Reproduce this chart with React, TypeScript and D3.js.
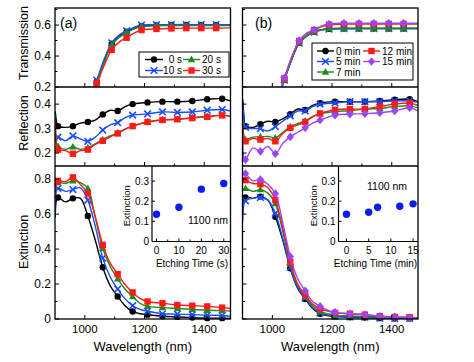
import React from "react";
import * as d3 from "d3";

const W = 474;
const H = 362;
const FONT = "'Liberation Sans', Arial, Helvetica, sans-serif";

// wavelength grids (nm)
const transWl = [1030, 1040, 1065, 1090, 1115, 1140, 1165, 1190, 1240, 1290, 1340, 1390, 1440, 1488];
const transMarks = [1040, 1090, 1140, 1190, 1240, 1290, 1340, 1390, 1440];
const reflWl = [901, 905, 910, 935, 960, 985, 1010, 1035, 1060, 1085, 1110, 1135, 1160, 1210, 1260, 1310, 1360, 1410, 1460, 1488];
const extWl = [901, 910, 935, 960, 985, 1010, 1035, 1060, 1085, 1110, 1135, 1160, 1185, 1210, 1260, 1310, 1360, 1410, 1460, 1488];
const marks = [910, 960, 1010, 1060, 1110, 1160, 1210, 1260, 1310, 1360, 1410, 1460];

const labelsA = ["0 s", "10 s", "20 s", "30 s"];
const labelsB = ["0 min", "5 min", "7 min", "12 min", "15 min"];

// (a) transmission
const transA0 = [0.19, 0.235, 0.37, 0.48, 0.53, 0.557, 0.58, 0.593, 0.598, 0.6, 0.6, 0.6, 0.6, 0.6];
const transA10 = [0.2, 0.245, 0.38, 0.485, 0.535, 0.563, 0.585, 0.6, 0.602, 0.603, 0.603, 0.603, 0.603, 0.603];
const transA20 = [0.185, 0.23, 0.36, 0.47, 0.52, 0.55, 0.575, 0.59, 0.595, 0.596, 0.596, 0.596, 0.596, 0.596];
const transA30 = [0.18, 0.222, 0.34, 0.44, 0.49, 0.518, 0.548, 0.568, 0.575, 0.578, 0.58, 0.58, 0.58, 0.582];
// (b) transmission
const transB0 = [0.19, 0.245, 0.38, 0.485, 0.53, 0.557, 0.57, 0.576, 0.578, 0.578, 0.578, 0.578, 0.578, 0.578];
const transB5 = [0.19, 0.245, 0.38, 0.483, 0.528, 0.555, 0.568, 0.574, 0.576, 0.577, 0.577, 0.577, 0.577, 0.578];
const transB7 = [0.19, 0.245, 0.38, 0.485, 0.53, 0.557, 0.57, 0.577, 0.58, 0.58, 0.58, 0.58, 0.58, 0.58];
const transB12 = [0.195, 0.255, 0.39, 0.497, 0.545, 0.567, 0.59, 0.602, 0.606, 0.607, 0.607, 0.607, 0.607, 0.607];
const transB15 = [0.2, 0.258, 0.395, 0.5, 0.548, 0.57, 0.595, 0.607, 0.612, 0.612, 0.612, 0.612, 0.612, 0.612];

// (a) reflection
const reflA0 = [0.37, 0.33, 0.31, 0.305, 0.31, 0.322, 0.327, 0.335, 0.358, 0.375, 0.372, 0.39, 0.4, 0.407, 0.41, 0.41, 0.413, 0.42, 0.422, 0.413];
const reflA10 = [0.36, 0.25, 0.265, 0.25, 0.27, 0.258, 0.248, 0.265, 0.294, 0.315, 0.324, 0.345, 0.355, 0.36, 0.368, 0.366, 0.368, 0.375, 0.378, 0.372];
const reflA20 = [0.33, 0.24, 0.228, 0.215, 0.225, 0.215, 0.222, 0.238, 0.255, 0.27, 0.283, 0.298, 0.31, 0.328, 0.335, 0.338, 0.345, 0.35, 0.355, 0.35];
const reflA30 = [0.33, 0.23, 0.214, 0.21, 0.197, 0.21, 0.214, 0.235, 0.25, 0.266, 0.28, 0.298, 0.31, 0.327, 0.335, 0.338, 0.343, 0.348, 0.354, 0.35];
// (b) reflection
const reflB0 = [0.42, 0.35, 0.31, 0.305, 0.318, 0.33, 0.327, 0.34, 0.359, 0.38, 0.376, 0.395, 0.404, 0.41, 0.41, 0.41, 0.413, 0.418, 0.42, 0.41];
const reflB5 = [0.4, 0.33, 0.305, 0.3, 0.3, 0.29, 0.308, 0.33, 0.352, 0.372, 0.372, 0.39, 0.4, 0.405, 0.41, 0.41, 0.41, 0.413, 0.413, 0.408];
const reflB7 = [0.33, 0.27, 0.255, 0.265, 0.266, 0.268, 0.262, 0.285, 0.308, 0.32, 0.331, 0.35, 0.36, 0.37, 0.373, 0.38, 0.382, 0.39, 0.393, 0.385];
const reflB12 = [0.32, 0.26, 0.248, 0.26, 0.255, 0.26, 0.248, 0.28, 0.303, 0.315, 0.327, 0.348, 0.362, 0.377, 0.38, 0.38, 0.39, 0.4, 0.404, 0.395];
const reflB15 = [0.25, 0.18, 0.173, 0.221, 0.207, 0.227, 0.197, 0.24, 0.266, 0.285, 0.303, 0.322, 0.335, 0.355, 0.359, 0.361, 0.365, 0.372, 0.385, 0.372];

// (a) extinction
const extA0 = [0.58, 0.695, 0.67, 0.69, 0.69, 0.589, 0.45, 0.296, 0.19, 0.129, 0.075, 0.043, 0.03, 0.025, 0.016, 0.012, 0.008, 0.005, 0.005, 0.003];
const extA10 = [0.6, 0.747, 0.73, 0.74, 0.75, 0.68, 0.53, 0.348, 0.24, 0.171, 0.115, 0.076, 0.055, 0.044, 0.03, 0.028, 0.025, 0.022, 0.02, 0.016];
const extA20 = [0.7, 0.78, 0.775, 0.79, 0.78, 0.747, 0.58, 0.405, 0.3, 0.23, 0.17, 0.129, 0.09, 0.072, 0.065, 0.06, 0.055, 0.05, 0.048, 0.045];
const extA30 = [0.72, 0.79, 0.785, 0.81, 0.77, 0.718, 0.585, 0.424, 0.32, 0.257, 0.196, 0.152, 0.118, 0.1, 0.09, 0.08, 0.076, 0.072, 0.065, 0.06];
// (b) extinction
const extB0 = [0.6, 0.695, 0.69, 0.7, 0.68, 0.585, 0.45, 0.29, 0.175, 0.114, 0.06, 0.03, 0.02, 0.015, 0.01, 0.008, 0.005, 0.003, 0.003, 0.003];
const extB5 = [0.56, 0.676, 0.69, 0.695, 0.68, 0.604, 0.46, 0.296, 0.18, 0.12, 0.065, 0.035, 0.022, 0.016, 0.012, 0.01, 0.005, 0.003, 0.003, 0.003];
const extB7 = [0.74, 0.747, 0.73, 0.74, 0.72, 0.66, 0.5, 0.318, 0.19, 0.129, 0.075, 0.044, 0.03, 0.022, 0.018, 0.015, 0.012, 0.01, 0.008, 0.006];
const extB12 = [0.8, 0.794, 0.775, 0.771, 0.75, 0.68, 0.52, 0.328, 0.2, 0.138, 0.085, 0.057, 0.045, 0.035, 0.03, 0.025, 0.016, 0.012, 0.01, 0.008];
const extB15 = [0.84, 0.832, 0.79, 0.798, 0.77, 0.718, 0.55, 0.357, 0.23, 0.161, 0.1, 0.072, 0.05, 0.038, 0.03, 0.025, 0.016, 0.012, 0.008, 0.005];

// insets: extinction at 1100 nm vs etching time
const etchA = [0, 10, 20, 30];
const ext1100A = [0.135, 0.17, 0.26, 0.288];
const etchB = [0, 5, 7, 12, 15];
const ext1100B = [0.135, 0.145, 0.17, 0.175, 0.187];

const BLACK = "#000000";
const BLUE = "#1a4cff";
const GREEN = "#1b8c1b";
const RED = "#ff1a1a";
const PURPLE = "#9c45f5";
const DOT = "#0a1cf0";

const seriesA = [
  { name: labelsA[0], color: BLACK, mark: "circle", T: transA0, R: reflA0, E: extA0 },
  { name: labelsA[1], color: BLUE, mark: "cross", T: transA10, R: reflA10, E: extA10 },
  { name: labelsA[2], color: GREEN, mark: "triangle", T: transA20, R: reflA20, E: extA20 },
  { name: labelsA[3], color: RED, mark: "square", T: transA30, R: reflA30, E: extA30 },
];
const seriesB = [
  { name: labelsB[0], color: BLACK, mark: "circle", T: transB0, R: reflB0, E: extB0 },
  { name: labelsB[1], color: BLUE, mark: "cross", T: transB5, R: reflB5, E: extB5 },
  { name: labelsB[2], color: GREEN, mark: "triangle", T: transB7, R: reflB7, E: extB7 },
  { name: labelsB[3], color: RED, mark: "square", T: transB12, R: reflB12, E: extB12 },
  { name: labelsB[4], color: PURPLE, mark: "diamond", T: transB15, R: reflB15, E: extB15 },
];

const ROWS = {
  T: { y0: 8, y1: 87, domain: [0.2, 0.71], major: [0.2, 0.4, 0.6], minor: [0.3, 0.5, 0.7], wl: transWl, mk: transMarks },
  R: { y0: 87, y1: 166, domain: [0.147, 0.47], major: [0.2, 0.3, 0.4], minor: [], wl: reflWl, mk: marks },
  E: { y0: 166, y1: 319, domain: [0, 0.875], major: [0, 0.2, 0.4, 0.6, 0.8], minor: [0.1, 0.3, 0.5, 0.7], wl: extWl, mk: marks },
};

function Marker({ kind, x, y, color }) {
  if (kind === "circle") return <circle cx={x} cy={y} r={3.2} fill={color} />;
  if (kind === "square") return <rect x={x - 3.2} y={y - 3.2} width={6.4} height={6.4} fill={color} />;
  if (kind === "triangle")
    return <path d={`M${x},${y - 3.9}L${x + 3.7},${y + 2.7}L${x - 3.7},${y + 2.7}Z`} fill={color} />;
  if (kind === "diamond")
    return <path d={`M${x},${y - 4.3}L${x + 3.7},${y}L${x},${y + 4.3}L${x - 3.7},${y}Z`} fill={color} />;
  return (
    <path
      d={`M${x - 3.3},${y - 3.3}L${x + 3.3},${y + 3.3}M${x - 3.3},${y + 3.3}L${x + 3.3},${y - 3.3}`}
      stroke={color}
      strokeWidth={1.6}
      fill="none"
    />
  );
}

function Cell({ id, x0, x1, rowKey, series, showY, showX }) {
  const row = ROWS[rowKey];
  const x = d3.scaleLinear().domain([900, 1488]).range([x0, x1]);
  const y = d3.scaleLinear().domain(row.domain).range([row.y1, row.y0]);
  const line = d3
    .line()
    .x((d) => x(d[0]))
    .y((d) => y(d[1]))
    .curve(d3.curveCatmullRom.alpha(0.5));
  const clip = `clip-${id}`;
  return (
    <g>
      <clipPath id={clip}>
        <rect x={x0} y={row.y0} width={x1 - x0} height={row.y1 - row.y0} />
      </clipPath>
      {series.map((s) => {
        const pts = row.wl.map((w, i) => [w, s[rowKey][i]]);
        return (
          <g key={s.name}>
            <path d={line(pts)} fill="none" stroke={s.color} strokeWidth={1.4} clipPath={`url(#${clip})`} />
            {pts
              .filter((p) => row.mk.includes(p[0]))
              .map((p) => (
                <Marker key={p[0]} kind={s.mark} x={x(p[0])} y={y(p[1])} color={s.color} />
              ))}
          </g>
        );
      })}
      {/* x ticks, inward */}
      {[1000, 1200, 1400].map((t) => (
        <line key={t} x1={x(t)} x2={x(t)} y1={row.y1} y2={row.y1 - 4} stroke="#000" strokeWidth={1} />
      ))}
      {[1100, 1300].map((t) => (
        <line key={t} x1={x(t)} x2={x(t)} y1={row.y1} y2={row.y1 - 2.5} stroke="#000" strokeWidth={1} />
      ))}
      {/* y ticks, inward */}
      {row.major.map((t) => (
        <line key={t} x1={x0} x2={x0 + 4} y1={y(t)} y2={y(t)} stroke="#000" strokeWidth={1} />
      ))}
      {row.minor.map((t) => (
        <line key={t} x1={x0} x2={x0 + 2.5} y1={y(t)} y2={y(t)} stroke="#000" strokeWidth={1} />
      ))}
      {showY &&
        row.major.map((t) => (
          <text key={t} x={x0 - 4} y={y(t)} dy="0.36em" textAnchor="end" fontSize={12}>
            {t === 0 ? "0" : t.toFixed(1)}
          </text>
        ))}
      {showX &&
        [1000, 1200, 1400].map((t) => (
          <text key={t} x={x(t)} y={333} textAnchor="middle" fontSize={11.5}>
            {t}
          </text>
        ))}
    </g>
  );
}

function Inset({ x0, x1, y0, y1, xDomain, xTicks, xMinor, times, vals, title, titleX, titleY, ylabX, note, noteX, noteY, noteAnchor }) {
  const x = d3.scaleLinear().domain(xDomain).range([x0, x1]);
  const y = d3.scaleLinear().domain([0, 0.375]).range([y1, y0]);
  const yt = [0, 0.1, 0.2, 0.3];
  return (
    <g>
      <rect x={x0} y={y0} width={x1 - x0} height={y1 - y0} fill="#fff" />
      <line x1={x0} x2={x0} y1={y0} y2={y1} stroke="#000" strokeWidth={1.2} />
      <line x1={x0} x2={x1} y1={y1} y2={y1} stroke="#000" strokeWidth={1.2} />
      {yt.map((t) => (
        <g key={t}>
          <line x1={x0} x2={x0 + 3} y1={y(t)} y2={y(t)} stroke="#000" />
          <text x={x0 - 3} y={y(t)} dy="0.36em" textAnchor="end" fontSize={10}>
            {t === 0 ? "0" : t.toFixed(1)}
          </text>
        </g>
      ))}
      {xTicks.map((t) => (
        <g key={t}>
          <line x1={x(t)} x2={x(t)} y1={y1} y2={y1 - 3} stroke="#000" />
          <text x={x(t)} y={y1 + 12} textAnchor="middle" fontSize={10}>
            {t}
          </text>
        </g>
      ))}
      {xMinor.map((t) => (
        <line key={t} x1={x(t)} x2={x(t)} y1={y1} y2={y1 - 2} stroke="#000" />
      ))}
      {times.map((t, i) => (
        <circle key={t} cx={x(t)} cy={y(vals[i])} r={3.7} fill={DOT} />
      ))}
      <text x={noteX} y={noteY} textAnchor={noteAnchor} fontSize={10.5}>
        {note}
      </text>
      <text x={titleX} y={titleY} textAnchor="middle" fontSize={10}>
        {title}
      </text>
      <text transform={`translate(${ylabX},${(y0 + y1) / 2 + 2}) rotate(-90)`} textAnchor="middle" fontSize={9.5}>
        Extinction
      </text>
    </g>
  );
}

function Legend({ box, items }) {
  return (
    <g>
      <rect x={box[0]} y={box[1]} width={box[2]} height={box[3]} fill="#fff" stroke="#000" strokeWidth={1} />
      {items.map((it) => (
        <g key={it.s.name}>
          <line x1={it.lx0} x2={it.lx1} y1={it.y} y2={it.y} stroke={it.s.color} strokeWidth={1.4} />
          <Marker kind={it.s.mark} x={(it.lx0 + it.lx1) / 2} y={it.y} color={it.s.color} />
          <text x={it.tx} y={it.y} dy="0.36em" textAnchor={it.anchor} fontSize={10}>
            {it.s.name}
          </text>
        </g>
      ))}
    </g>
  );
}

function Column({ id, x0, x1, series, showY }) {
  return (
    <g>
      <Cell id={`${id}T`} x0={x0} x1={x1} rowKey="T" series={series} showY={showY} showX={false} />
      <Cell id={`${id}R`} x0={x0} x1={x1} rowKey="R" series={series} showY={showY} showX={false} />
      <Cell id={`${id}E`} x0={x0} x1={x1} rowKey="E" series={series} showY={showY} showX={true} />
    </g>
  );
}

function Frames({ x0, x1 }) {
  return (
    <g fill="none" stroke="#000" strokeWidth={1.3}>
      <rect x={x0} y={8} width={x1 - x0} height={311} />
      <line x1={x0} x2={x1} y1={87} y2={87} />
      <line x1={x0} x2={x1} y1={166} y2={166} />
    </g>
  );
}

export default function App() {
  const A = { x0: 55, x1: 230.5 };
  const B = { x0: 242.5, x1: 418 };
  const legA = [
    { s: seriesA[0], lx0: 145, lx1: 163, y: 59.5, tx: 182, anchor: "end" },
    { s: seriesA[1], lx0: 145, lx1: 163, y: 70.5, tx: 182, anchor: "end" },
    { s: seriesA[2], lx0: 183, lx1: 200, y: 59.5, tx: 202, anchor: "start" },
    { s: seriesA[3], lx0: 183, lx1: 200, y: 70.5, tx: 202, anchor: "start" },
  ];
  const legB = [
    { s: seriesB[0], lx0: 317, lx1: 334, y: 51, tx: 336, anchor: "start" },
    { s: seriesB[1], lx0: 317, lx1: 334, y: 61.5, tx: 336, anchor: "start" },
    { s: seriesB[2], lx0: 317, lx1: 334, y: 72, tx: 336, anchor: "start" },
    { s: seriesB[3], lx0: 363, lx1: 380, y: 51, tx: 382, anchor: "start" },
    { s: seriesB[4], lx0: 363, lx1: 380, y: 61.5, tx: 382, anchor: "start" },
  ];
  return (
    <svg width={W} height={H} style={{ position: "absolute", left: 0, top: 0 }} fontFamily={FONT}>
      <rect width={W} height={H} fill="#fff" />
      <Column id="a" x0={A.x0} x1={A.x1} series={seriesA} showY={true} />
      <Column id="b" x0={B.x0} x1={B.x1} series={seriesB} showY={false} />
      <Legend box={[139, 52, 90, 25]} items={legA} />
      <Legend box={[312, 43, 101, 37]} items={legB} />
      <Inset
        x0={152} x1={A.x1} y0={166} y1={241.5}
        xDomain={[-2, 33]} xTicks={[0, 10, 20, 30]} xMinor={[5, 15, 25]}
        times={etchA} vals={ext1100A}
        title="Etching Time (s)" titleX={192} titleY={267} ylabX={129.5}
        note="1100 nm" noteX={228} noteY={224} noteAnchor="end"
      />
      <Inset
        x0={338.5} x1={B.x1} y0={166} y1={241.5}
        xDomain={[-1.8, 16.1]} xTicks={[0, 5, 10, 15]} xMinor={[]}
        times={etchB} vals={ext1100B}
        title="Etching Time (min)" titleX={375.5} titleY={267} ylabX={316.5}
        note="1100 nm" noteX={367} noteY={190} noteAnchor="start"
      />
      <Frames x0={A.x0} x1={A.x1} />
      <Frames x0={B.x0} x1={B.x1} />
      <text x={60} y={27.5} fontSize={14}>(a)</text>
      <text x={255} y={27.5} fontSize={14}>(b)</text>
      <text transform="translate(28,43) rotate(-90)" textAnchor="middle" fontSize={12.5}>Transmission</text>
      <text transform="translate(28,123) rotate(-90)" textAnchor="middle" fontSize={12.5}>Reflection</text>
      <text transform="translate(28,242) rotate(-90)" textAnchor="middle" fontSize={12.5}>Extinction</text>
      <text x={(A.x0 + A.x1) / 2} y={351} textAnchor="middle" fontSize={13}>Wavelength (nm)</text>
      <text x={(B.x0 + B.x1) / 2} y={351} textAnchor="middle" fontSize={13}>Wavelength (nm)</text>
    </svg>
  );
}
